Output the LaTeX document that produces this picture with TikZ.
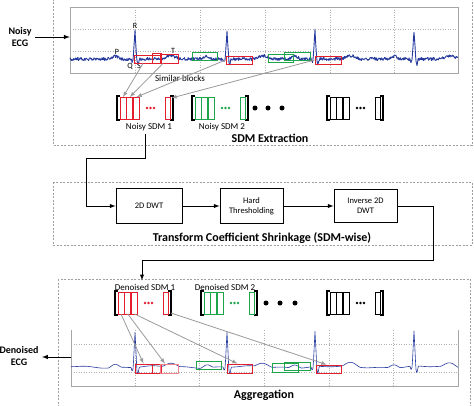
\documentclass[tikz,border=0pt]{standalone}
\usepackage{fontspec}
\setmainfont{Carlito}
\usetikzlibrary{arrows}
\usetikzlibrary{calc}

\definecolor{ecgblue}{RGB}{38,58,158}
\definecolor{blockred}{RGB}{228,30,45}
\definecolor{blockgreen}{RGB}{30,165,75}

\begin{document}
\begin{tikzpicture}[x=1pt, y=-1pt, >=latex,
    declare function={
        tri(\xx,\ww)=max(0,1-abs(\xx)/\ww);
        bump(\xx,\ww)=max(0,1-(\xx/\ww)^2)^2;
        beat(\xx)=28*tri(\xx,1.8)-3*tri(\xx+2.8,1.2)-6*tri(\xx-2.8,1.5)+2.5*bump(\xx+20,7)+3*bump(\xx-36,10);
        ecg(\xx)=beat(\xx-135)+beat(\xx-227)+beat(\xx-315)+beat(\xx-414);
    }]
    \tikzset{
        stage frame/.style={draw=gray!75, dash pattern=on 2pt off 1.5pt, line width=0.7pt},
        plot frame/.style={draw=gray!70, line width=0.5pt},
        grid line/.style={gray!60, dotted, line width=0.5pt},
        block/.style args={#1:#2:#3}{draw=#1, line width=0.8pt, inner sep=0pt,
            minimum width=#2, minimum height=#3},
        proc box/.style={draw, line width=0.9pt, minimum height=35, align=center,
            font=\fontsize{8.5}{10}\selectfont},
        gray arrow/.style={->, gray!80, line width=0.8pt},
        stage title/.style={font=\bfseries\fontsize{12}{14}\selectfont},
        side label/.style={font=\bfseries\fontsize{10}{12}\selectfont, align=center},
        small label/.style={font=\fontsize{9}{10}\selectfont},
        wave label/.style={font=\fontsize{8}{9}\selectfont, inner sep=0.5pt},
        pics/sdm/.style={code={
            \draw[line width=1.1pt] (3,0) -| (0,24) -- (3,24);
            \draw[line width=1.1pt] (53,0) -| (56,24) -- (53,24);
            \foreach \i in {0,1,2}
                \draw[#1, line width=0.7pt] (3+6.8*\i,1) rectangle ++(6,22);
            \draw[#1, line width=0.7pt] (48.5,1) rectangle ++(5,22);
            \foreach \i in {0,1,2}
                \fill[#1] (30+3.5*\i,12) circle (1.4);
            \coordinate (-t1) at (6,1);
            \coordinate (-t2) at (12.8,1);
            \coordinate (-t3) at (19.6,1);
            \coordinate (-tn) at (54.5,2);
            \coordinate (-b1) at (6,23);
            \coordinate (-b2) at (12.8,23);
            \coordinate (-b3) at (19.6,23);
            \coordinate (-bn) at (56,22);
        }}
    }
    \useasboundingbox (0,0) rectangle (474,405);
    \clip (0,0) rectangle (474,405);
    \pgfmathsetseed{21}

    % three stages
    \draw[stage frame] (53,-5) rectangle (472,145);
    \draw[stage frame] (53,182) rectangle (472,245);
    \draw[stage frame] (58,279) rectangle (470,410);

    % noisy ECG
    \foreach \gx in {135,200,265,330,394}
        \draw[grid line] (\gx,7) -- (\gx,73);
    \foreach \gy in {29,51}
        \draw[grid line] (70,\gy) -- (458,\gy);
    \node[plot frame, minimum width=388, minimum height=66, inner sep=0pt] (topplot) at (264,40) {};
    \draw[ecgblue, line width=0.9pt, line join=round]
        plot[domain=70:458, samples=777] (\x,{59-ecg(\x)+1.6*rand});

    \node[wave label] (lr) at (135,26) {R};
    \node[wave label] (lp) at (117,52) {P};
    \node[wave label] (lt) at (173,51) {T};
    \node[wave label] (lq) at (130,66) {Q};
    \node[wave label] (ls) at (139,66) {S};

    \node[block=blockred:26:8] (rb1) at (147,59) {};
    \node[block=blockred:9:10] (rb2) at (156.5,58) {};
    \node[block=blockred:18:9] (rb3) at (169,58.5) {};
    \node[block=blockgreen:25:8] (gb1) at (204.5,56) {};
    \node[block=blockred:26:8] (rb4) at (239,60) {};
    \node[block=blockgreen:25:8] (gb2) at (280.5,58) {};
    \node[block=blockgreen:26:8] (gb3) at (297,56) {};
    \node[block=blockred:26:8] (rb5) at (328,60) {};
    \node[small label] (similar) at (180,78) {Similar blocks};

    \node[side label] (noisy) at (20,37) {Noisy\\ECG};
    \draw[->, line width=1pt] (noisy.east) -- (noisy.east -| topplot.west);

    % noisy SDMs
    \pic (ns1) at (117,96) {sdm=blockred};
    \pic (ns2) at (192,96) {sdm=blockgreen};
    \pic (ns3) at (327,96) {sdm=black};
    \foreach \dx in {255,268,282}
        \fill (\dx,108) circle (2.5);
    \node[small label] (nsdm1) at (149,127) {Noisy SDM 1};
    \node[small label] (nsdm2) at (222,127) {Noisy SDM 2};
    \node[stage title] (sdmx) at (270,138) {SDM Extraction};

    \draw[gray arrow] ([xshift=-4]rb1.south) -- (ns1-t1);
    \draw[gray arrow] ([xshift=-6]rb3.south) -- (ns1-t2);
    \draw[gray arrow] (rb4.west) -- (ns1-t3);
    \draw[gray arrow] (rb5.west) -- (ns1-tn);

    % shrinkage
    \node[proc box, minimum width=66] (dwt) at (149,206) {2D DWT};
    \node[proc box, minimum width=63] (thr) at (251.5,206) {Hard\\Thresholding};
    \node[proc box, minimum width=63, minimum height=33] (idwt) at (365.5,206) {Inverse 2D\\DWT};
    \draw[->, line width=1pt] (dwt) -- (thr);
    \draw[->, line width=1pt] (thr) -- (idwt);
    \node[stage title] (tcs) at (262,238) {Transform Coefficient Shrinkage (SDM-wise)};

    \draw[->, line width=1pt] ([xshift=-4]nsdm1.south) |- (86,158) |- (dwt.west);

    % aggregation
    \node[small label] (dsdm1) at (145,287) {Denoised SDM 1};
    \node[small label] (dsdm2) at (225,287) {Denoised SDM 2};
    \draw[->, line width=1pt] (idwt.east) -| (433,260) -| ([xshift=-3]dsdm1.north);

    \pic (ds1) at (115,291) {sdm=blockred};
    \pic (ds2) at (201,291) {sdm=blockgreen};
    \pic (ds3) at (327,291) {sdm=black};
    \foreach \dx in {266,280,295}
        \fill (\dx,303) circle (2.5);

    \foreach \gx in {135,199,264,329,393}
        \draw[grid line] (\gx,330) -- (\gx,386);
    \foreach \gy in {344,372}
        \draw[grid line] (71,\gy) -- (458,\gy);
    \draw[plot frame] (71,330) -- (71,386) -- (458,386) -- (458,330);
    \draw[ecgblue, line width=0.6pt, line join=round]
        plot[domain=71:458, samples=775] (\x,{367-1.25*ecg(\x)+0.8*sin(4*\x)+0.5*sin(11*\x+40)});

    \node[block=blockred:25:9] (brb1) at (147.5,368.5) {};
    \node[block=blockred:9:9] (brb2) at (156.5,368.5) {};
    \node[block=blockred!55:18:9] (brb3) at (169,368.5) {};
    \node[block=blockgreen:25:8] (bgb1) at (208.5,365) {};
    \node[block=blockred:25:9] (brb4) at (239.5,368.5) {};
    \node[block=blockgreen:26:9] (bgb2) at (285,367.5) {};
    \node[block=blockgreen:26:8] (bgb3) at (297,366) {};
    \node[block=blockred:25:8] (brb5) at (328.5,369) {};

    \draw[gray arrow] (ds1-b1) -- ([xshift=-4]brb1.north);
    \draw[gray arrow] (ds1-b2) -- ([xshift=-4]brb3.north);
    \draw[gray arrow] (ds1-b3) -- ([xshift=-2]brb4.north);
    \draw[gray arrow] (ds1-bn) -- ([xshift=-2]brb5.north);

    \node[side label] (denoised) at (19,356) {Denoised\\ECG};
    \coordinate (botout) at (71,357);
    \draw[->, line width=1pt] (botout) -- (botout -| denoised.east);
    \node[stage title] (aggr) at (264,395) {Aggregation};
\end{tikzpicture}
\end{document}
